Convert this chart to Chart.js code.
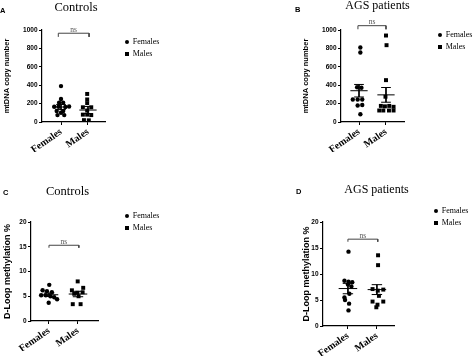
<!DOCTYPE html>
<html>
<head>
<meta charset="utf-8">
<script src="https://cdn.jsdelivr.net/npm/chart.js@4"></script>
<style>
  html, body { margin: 0; padding: 0; background: #fff; }
  #wrap { position: relative; width: 474px; height: 360px; overflow: hidden; font-family: "Liberation Serif", "Times New Roman", serif; color: #000; }
  .panel { position: absolute; width: 237px; height: 180px; }
  .letter { position: absolute; font: bold 7.5px/1 "Liberation Sans", Arial, sans-serif; }
  .title { position: absolute; line-height: 1; transform: translateX(-50%); white-space: nowrap; }
  .legend { position: absolute; font-size: 8px; line-height: 1; }
  .legend div { height: 11.5px; display: flex; align-items: center; white-space: nowrap; }
  .dot { display: inline-block; width: 4.5px; height: 4.5px; border-radius: 50%; background: #000; margin-right: 3.5px; }
  .sq { display: inline-block; width: 4px; height: 4px; background: #000; margin: 0 3.75px 0 0.25px; }
</style>
</head>
<body>
<div id="wrap">
  <div class="panel" style="left:0;top:0"><canvas id="chartA" width="237" height="180"></canvas></div>
  <div class="panel" style="left:237px;top:0"><canvas id="chartB" width="237" height="180"></canvas></div>
  <div class="panel" style="left:0;top:180px"><canvas id="chartC" width="237" height="180"></canvas></div>
  <div class="panel" style="left:237px;top:180px"><canvas id="chartD" width="237" height="180"></canvas></div>

  <div class="letter" style="left:0;top:7px">A</div>
  <div class="letter" style="left:295px;top:6px">B</div>
  <div class="letter" style="left:3px;top:189px">C</div>
  <div class="letter" style="left:296px;top:188px">D</div>

  <div class="title" style="left:76px;top:0.5px;font-size:12.5px">Controls</div>
  <div class="title" style="left:377.5px;top:-1px;font-size:12px">AGS patients</div>
  <div class="title" style="left:67.5px;top:185px;font-size:12.5px">Controls</div>
  <div class="title" style="left:376.5px;top:182.5px;font-size:12px">AGS patients</div>

  <div class="legend" style="left:124.75px;top:36.25px"><div><span class="dot"></span>Females</div><div><span class="sq"></span>Males</div></div>
  <div class="legend" style="left:437.75px;top:29.25px"><div><span class="dot"></span>Females</div><div><span class="sq"></span>Males</div></div>
  <div class="legend" style="left:124.75px;top:210.25px"><div><span class="dot"></span>Females</div><div><span class="sq"></span>Males</div></div>
  <div class="legend" style="left:433.75px;top:205.25px"><div><span class="dot"></span>Females</div><div><span class="sq"></span>Males</div></div>
</div>

<script>
// Groups on the x axis (Females at 1, Males at 2)
const groups = ["Females", "Males"];
const copyTicks = [0, 200, 400, 600, 800, 1000];
const loopTicks = [0, 5, 10, 15, 20];

// A - Controls, mtDNA copy number (x = jittered position, y = value)
const ctrlCopyFx = [1.0, 1.0, 0.93, 1.08, 0.75, 0.91, 1.16, 1.3, 0.84, 1.08, 1.0, 0.87, 1.12];
const ctrlCopyFy = [390, 250, 210, 210, 165, 165, 163, 168, 120, 120, 100, 75, 75];
const ctrlCopyMx = [1.97, 1.97, 1.97, 1.81, 2.12, 1.97, 1.81, 1.97, 2.12, 1.85, 2.03];
const ctrlCopyMy = [305, 245, 205, 160, 160, 125, 80, 80, 75, 20, 18];
const ctrlCopyMean = [163, 130];
const ctrlCopySem = [28, 38];

// B - AGS patients, mtDNA copy number
const agsCopyFx = [1.05, 1.05, 0.93, 1.09, 0.77, 0.95, 1.12, 0.95, 1.12, 1.05];
const agsCopyFy = [810, 755, 378, 372, 245, 245, 245, 180, 185, 85];
const agsCopyMx = [2.0, 2.02, 2.0, 1.98, 1.81, 1.96, 2.12, 1.75, 1.9, 2.11, 2.28, 2.28];
const agsCopyMy = [940, 835, 455, 275, 175, 170, 175, 125, 125, 125, 125, 165];
const agsCopyMean = [340, 295];
const agsCopySem = [68, 80];

// C - Controls, D-Loop methylation %
const ctrlLoopFx = [1.01, 0.78, 0.93, 1.1, 0.73, 0.89, 1.05, 1.18, 1.28, 0.99];
const ctrlLoopFy = [7.3, 6.2, 6.0, 5.8, 5.2, 5.2, 5.0, 4.8, 4.4, 3.7];
const ctrlLoopMx = [1.99, 2.18, 1.79, 2.16, 1.98, 1.87, 2.02, 1.82, 2.09];
const ctrlLoopMy = [8.0, 6.7, 6.2, 5.8, 5.7, 5.5, 5.0, 3.4, 3.4];
const ctrlLoopMean = [5.3, 5.45];
const ctrlLoopSem = [0.35, 0.55];

// D - AGS patients, D-Loop methylation %
const agsLoopFx = [1.02, 0.88, 1.02, 1.15, 1.0, 1.12, 1.05, 0.88, 0.9, 1.04, 1.02];
const agsLoopFy = [14.3, 8.7, 8.5, 8.4, 8.0, 7.6, 6.2, 5.5, 5.0, 4.3, 3.0];
const agsLoopMx = [2.04, 2.04, 1.85, 2.22, 2.03, 2.07, 1.85, 2.22, 2.02, 1.98];
const agsLoopMy = [13.6, 11.7, 7.1, 7.0, 6.8, 5.8, 4.7, 4.7, 4.1, 3.6];
const agsLoopMean = [7.2, 7.0];
const agsLoopSem = [1.0, 0.95];

// "ns" brackets: [left x, right x] and [top y, foot y]
const ctrlCopyNsX = [0.9, 2.04], ctrlCopyNsY = [965, 925];
const agsCopyNsX = [0.96, 2.0], agsCopyNsY = [1047, 1008];
const ctrlLoopNsX = [1.0, 2.03], ctrlLoopNsY = [15.3, 14.8];
const agsLoopNsX = [1.0, 2.03], agsLoopNsY = [16.7, 16.2];

const MEAN_HW = 0.32; // half width of the mean line (x units)
const CAP_HW = 0.18;  // half width of the SEM caps

// "ns" text above each bracket
const nsLabel = {
  id: "nsLabel",
  afterDatasetsDraw(chart, args, opts) {
    const { x, y } = chart.scales;
    const ctx = chart.ctx;
    ctx.save();
    ctx.font = '7.5px "Liberation Serif"';
    ctx.fillStyle = "#555";
    ctx.textAlign = "center";
    ctx.textBaseline = "bottom";
    ctx.fillText("ns", x.getPixelForValue((opts.x[0] + opts.x[1]) / 2), y.getPixelForValue(opts.y[0]) + 0.5);
    ctx.restore();
  },
};

function toPoints(xs, ys) {
  return xs.map((x, i) => ({ x: x, y: ys[i] }));
}

function meanLines(means) {
  const pts = [];
  means.forEach((m, i) => {
    const c = i + 1;
    pts.push({ x: c - MEAN_HW, y: m }, { x: c + MEAN_HW, y: m }, { x: c, y: null });
  });
  return pts;
}

function semBars(means, sems) {
  const pts = [];
  means.forEach((m, i) => {
    const c = i + 1, hi = m + sems[i], lo = m - sems[i];
    pts.push({ x: c - CAP_HW, y: hi }, { x: c + CAP_HW, y: hi }, { x: c, y: null });
    pts.push({ x: c, y: hi }, { x: c, y: lo }, { x: c, y: null });
    pts.push({ x: c - CAP_HW, y: lo }, { x: c + CAP_HW, y: lo }, { x: c, y: null });
  });
  return pts;
}

function renderPanel(id, cfg) {
  const ctx = document.getElementById(id).getContext("2d");
  const lineStyle = { type: "line", borderColor: "#000", borderWidth: 1, pointRadius: 0, showLine: true, fill: false };

  new Chart(ctx, {
    type: "scatter",
    data: {
      datasets: [
        { data: toPoints(cfg.fx, cfg.fy), pointStyle: "circle", pointRadius: 2.2, backgroundColor: "#000", borderWidth: 0 },
        { data: toPoints(cfg.mx, cfg.my), pointStyle: "rect", pointRadius: 2.8, backgroundColor: "#000", borderWidth: 0 },
        { ...lineStyle, data: meanLines(cfg.mean) },
        { ...lineStyle, data: semBars(cfg.mean, cfg.sem) },
        {
          ...lineStyle,
          borderColor: "#444",
          clip: false,
          data: [
            { x: cfg.nsX[0], y: cfg.nsY[1] },
            { x: cfg.nsX[0], y: cfg.nsY[0] },
            { x: cfg.nsX[1], y: cfg.nsY[0] },
            { x: cfg.nsX[1], y: cfg.nsY[1] },
          ],
        },
      ],
    },
    options: {
      responsive: false,
      animation: false,
      events: [],
      layout: { padding: cfg.padding },
      plugins: {
        legend: { display: false },
        title: { display: false },
        tooltip: { enabled: false },
        nsLabel: { x: cfg.nsX, y: cfg.nsY },
      },
      scales: {
        x: {
          type: "linear",
          min: cfg.xRange[0],
          max: cfg.xRange[1],
          afterBuildTicks: (axis) => { axis.ticks = [1, 2].map((v) => ({ value: v })); },
          afterFit: (axis) => { axis.height = 30; },
          ticks: {
            autoSkip: false,
            minRotation: 35,
            maxRotation: 35,
            padding: 1,
            color: "#000",
            font: { family: "Liberation Serif", weight: "bold", size: 10 },
            callback: (v) => groups[v - 1],
          },
          grid: { drawOnChartArea: false, tickLength: 3, color: "#000" },
          border: { color: "#000", width: 1.2 },
        },
        y: {
          min: 0,
          max: cfg.yTicks[cfg.yTicks.length - 1],
          afterBuildTicks: (axis) => { axis.ticks = cfg.yTicks.map((v) => ({ value: v })); },
          afterFit: (axis) => { axis.width = cfg.yWidth; },
          ticks: {
            padding: 1.5,
            color: "#000",
            font: { family: "Liberation Sans", weight: "bold", size: 6.5 },
            callback: (v) => String(v),
          },
          grid: { drawOnChartArea: false, tickLength: 3, color: "#000" },
          border: { color: "#000", width: 1.2 },
          title: {
            display: true,
            text: cfg.yTitle,
            color: "#000",
            padding: { top: 2.5, bottom: 0 },
            font: { family: "Liberation Sans", weight: "bold", size: cfg.yTitleSize },
          },
        },
      },
    },
    plugins: [nsLabel],
  });
}

renderPanel("chartA", {
  fx: ctrlCopyFx, fy: ctrlCopyFy, mx: ctrlCopyMx, my: ctrlCopyMy,
  mean: ctrlCopyMean, sem: ctrlCopySem, nsX: ctrlCopyNsX, nsY: ctrlCopyNsY,
  yTicks: copyTicks, yTitle: "mtDNA copy number", yTitleSize: 7.5,
  xRange: [0.296, 2.63], yWidth: 42,
  padding: { left: 0, top: 30, right: 132, bottom: 28 },
});

renderPanel("chartB", {
  fx: agsCopyFx, fy: agsCopyFy, mx: agsCopyMx, my: agsCopyMy,
  mean: agsCopyMean, sem: agsCopySem, nsX: agsCopyNsX, nsY: agsCopyNsY,
  yTicks: copyTicks, yTitle: "mtDNA copy number", yTitleSize: 7.5,
  xRange: [0.333, 2.667], yWidth: 42,
  padding: { left: 62, top: 30, right: 70, bottom: 28 },
});

renderPanel("chartC", {
  fx: ctrlLoopFx, fy: ctrlLoopFy, mx: ctrlLoopMx, my: ctrlLoopMy,
  mean: ctrlLoopMean, sem: ctrlLoopSem, nsX: ctrlLoopNsX, nsY: ctrlLoopNsY,
  yTicks: loopTicks, yTitle: "D-Loop methylation %", yTitleSize: 9,
  xRange: [0.38, 2.69], yWidth: 31,
  padding: { left: 0, top: 42, right: 139, bottom: 9 },
});

renderPanel("chartD", {
  fx: agsLoopFx, fy: agsLoopFy, mx: agsLoopMx, my: agsLoopMy,
  mean: agsLoopMean, sem: agsLoopSem, nsX: agsLoopNsX, nsY: agsLoopNsY,
  yTicks: loopTicks, yTitle: "D-Loop methylation %", yTitleSize: 9,
  xRange: [0.14, 2.59], yWidth: 24,
  padding: { left: 62, top: 42, right: 80, bottom: 4 },
});
</script>
</body>
</html>
